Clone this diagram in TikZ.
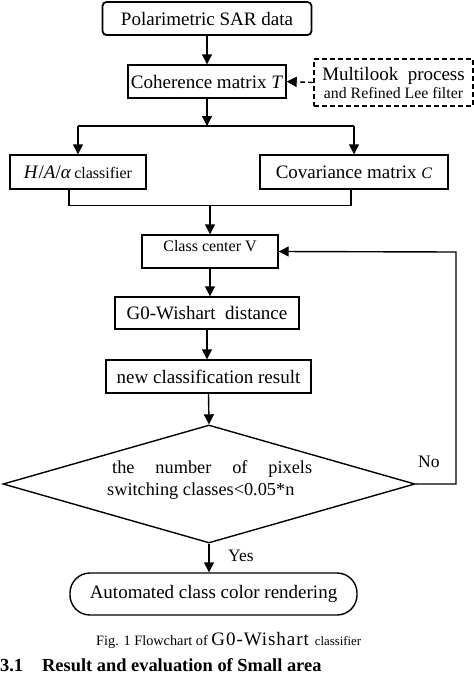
\documentclass[tikz,border=0pt]{standalone}
\usepackage{fontspec}
\setmainfont{Liberation Serif}
\usetikzlibrary{arrows.meta,shapes.geometric,calc}
\newcommand{\fs}[1]{\fontsize{#1}{#1}\selectfont}
\begin{document}
\begin{tikzpicture}[x=1pt,y=-1pt,
  box/.style={draw,line width=1.4pt,inner sep=0pt,font=\fs{19}},
  arr/.style={line width=1.4pt,-{Triangle[length=10pt,width=10pt]}},
  ln/.style={line width=1.4pt},
  lbl/.style={inner sep=0pt,anchor=base west},
]
\useasboundingbox (0,0) rectangle (474,675);
\clip (0,0) rectangle (474,675);
\fill[white] (0,0) rectangle (474,675);

% boxes
\node[box,rounded corners=4pt,line width=1.8pt,minimum width=209,minimum height=33] (sar) at (207,18.5) {Polarimetric SAR data};
\node[box,minimum width=158,minimum height=33] (coh) at (207,81.5) {Coherence matrix \textit{T}};
\node[box,dashed,dash pattern=on 5pt off 3pt,line width=1.8pt,minimum width=159,minimum height=47,align=center] (multi) at (393.5,82.5)
  {\fs{19}Multilook\ \ process\\[-1pt]{\fs{15.8}and Refined Lee filter}};
\node[box,minimum width=136,minimum height=34] (hal) at (78,172) {\textit{H}/\textit{A}/\textit{α}\,{\fs{16}classifier}};
\node[box,minimum width=188,minimum height=34] (cov) at (354,172) {Covariance matrix {\fs{16}\textit{C}}};
\node[box,minimum width=136,minimum height=33,font=\fs{16},text height=11pt,text depth=11pt] (cls) at (210,251.5) {Class center V};
\node[box,minimum width=184,minimum height=32] (gw) at (207,313) {G0-Wishart\ \ distance};
\node[box,minimum width=205,minimum height=33] (ncr) at (208.5,376.5) {new classification result};
\node[draw,diamond,line width=1.4pt,inner sep=0pt,minimum width=412,minimum height=118] (dec) at (209,484) {};
\node[lbl,font=\fs{18.3}] (dt1) at (112,473) {\makebox[200pt][s]{the number of pixels}};
\node[lbl,font=\fs{18.3}] (dt2) at (107,495) {switching classes<0.05*n};
\node[box,rounded corners=20pt,minimum width=287,minimum height=42] (end) at (213.5,594) {Automated class color rendering};

% labels
\node[lbl,font=\fs{17.5}] (no) at (418,467) {No};
\node[lbl,font=\fs{17.5}] (yes) at (228,561) {Yes};
\node[lbl,font=\fs{14.3}] (cap) at (96,645) {Fig. 1 Flowchart of {\fs{19}\addfontfeature{LetterSpace=5}G0-Wishart}\hspace{6pt}{\fs{12.8}classifier}};
\node[lbl,font=\fs{18.4}\bfseries] (head) at (0,671) {3.1\hspace{19pt}Result and evaluation of Small area};

% junctions
\coordinate (j1) at (207,126);
\coordinate (j1l) at (hal.north |- j1);
\coordinate (j1r) at (cov.north |- j1);
\coordinate (j2l) at ($(hal.south)+(-9,16)$);
\coordinate (j2r) at ($(cov.south)+(-3,16)$);
\coordinate (j2) at (cls.north |- j2l);
\coordinate (fb1) at (456,484);
\coordinate (fb2) at (456,252);

% connectors
\draw[arr] (sar.south) -- (coh.north);
\draw[arr,dashed,dash pattern=on 5pt off 3pt] (multi.west) -- (coh.east);
\draw[arr] (coh.south) -- (j1);
\draw[ln] (j1l) -- (j1r);
\draw[arr] (j1l) -- (hal.north);
\draw[arr] (j1r) -- (cov.north);
\draw[ln] ($(hal.south)+(-9,0)$) -- (j2l) -- (j2r) -- ($(cov.south)+(-3,0)$);
\draw[arr] (j2) -- (cls.north);
\draw[arr] (cls.south) -- (cls.south |- gw.north);
\draw[arr] (gw.south) -- (gw.south |- ncr.north);
\draw[arr] (ncr.south) -- (dec.north);
\draw[arr] (dec.east) -- (fb1) -- (fb2) -- (cls.east);
\draw[arr] (dec.south) -- (dec.south |- end.north);
\end{tikzpicture}
\end{document}
